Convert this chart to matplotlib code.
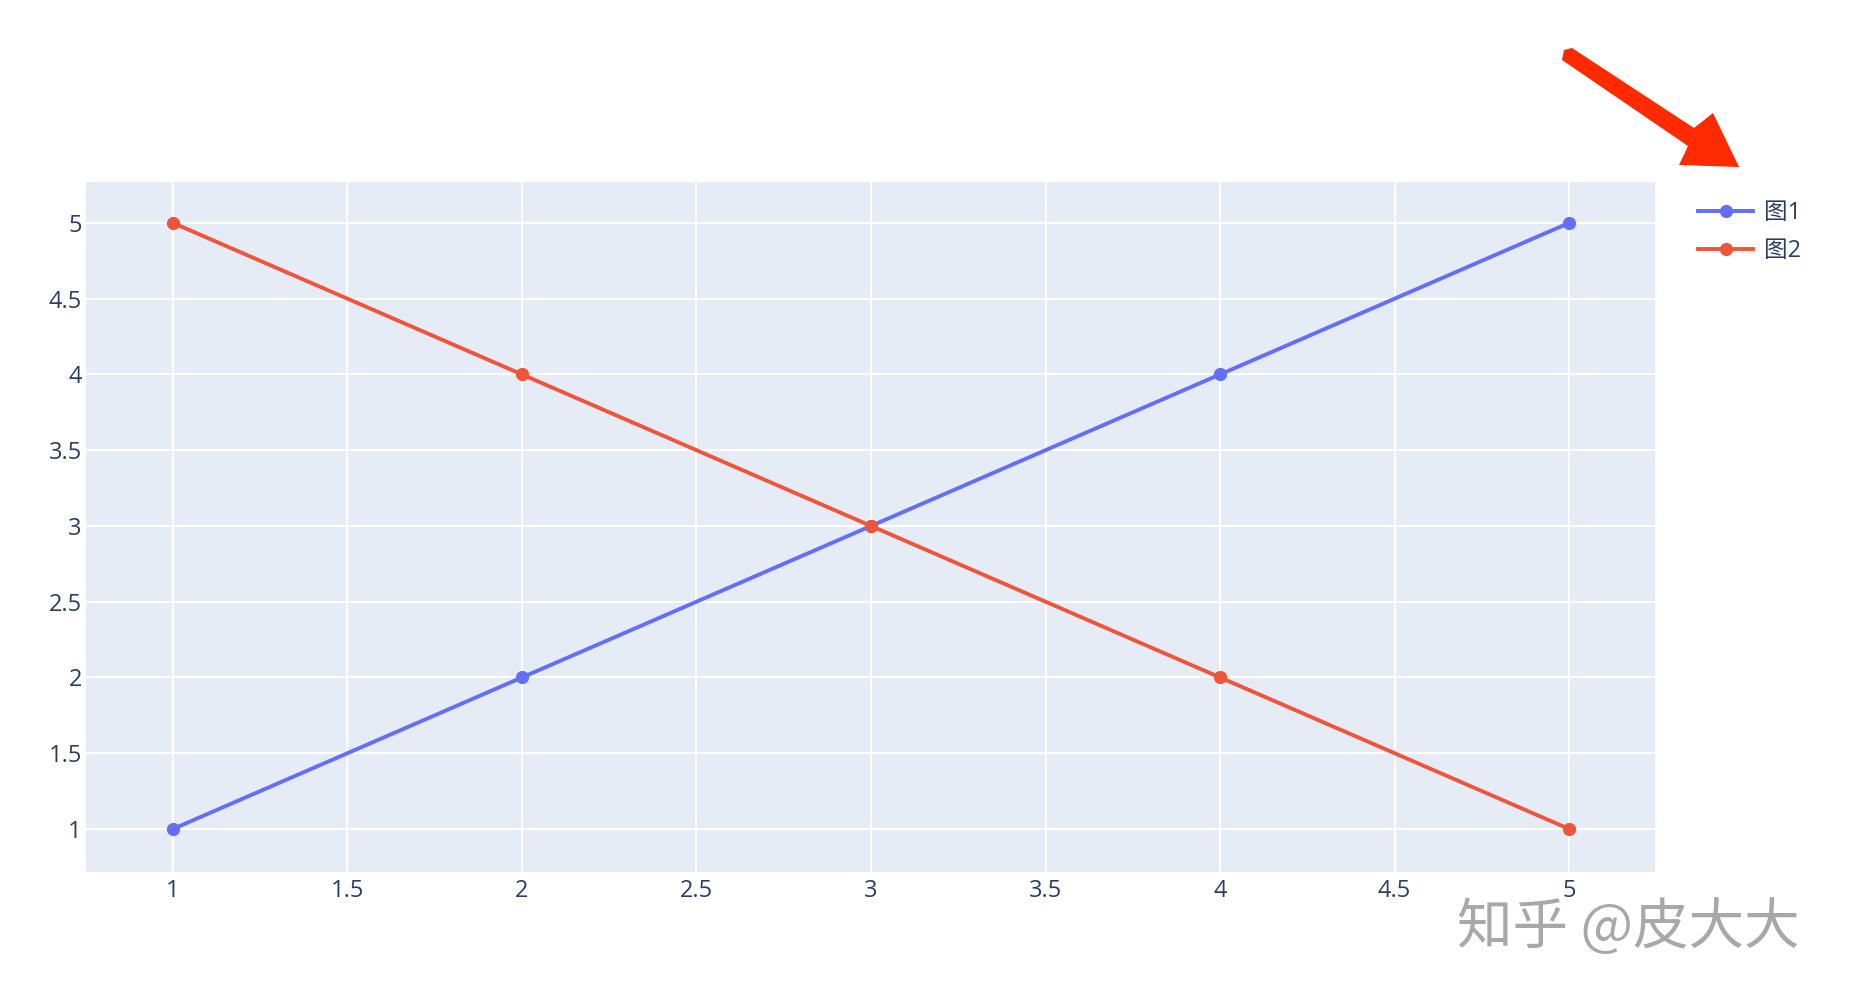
import matplotlib.pyplot as plt
from matplotlib.patches import Polygon

plt.rcParams['font.family'] = ['Open Sans', 'Noto Sans CJK SC', 'DejaVu Sans']

x = [1, 2, 3, 4, 5]
y1 = [1, 2, 3, 4, 5]
y2 = [5, 4, 3, 2, 1]
names = ['图1', '图2']
xticks = [1, 1.5, 2, 2.5, 3, 3.5, 4, 4.5, 5]
yticks = [1, 1.5, 2, 2.5, 3, 3.5, 4, 4.5, 5]

W, H = 1852, 1002
fig = plt.figure(figsize=(W / 100, H / 100), dpi=100)


def fx(px):
    return px / W


def fy(py):
    return 1 - py / H


# plot area (plotly-like)
ax = fig.add_axes([fx(86), fy(872), fx(1655) - fx(86), fy(182) - fy(872)])
ax.set_facecolor('#E5ECF6')
for s in ax.spines.values():
    s.set_visible(False)
ax.set_xlim(0.751, 5.246)
ax.set_ylim(0.716, 5.27)
ax.set_xticks(xticks)
ax.set_yticks(yticks)
ax.set_xticklabels([f'{t:g}' for t in xticks])
ax.set_yticklabels([f'{t:g}' for t in yticks])
ax.grid(True, color='white', linewidth=1.5)
ax.set_axisbelow(True)
ax.tick_params(length=0, labelsize=17, colors='#2a3f5f')
ax.tick_params(axis='y', pad=3)
ax.tick_params(axis='x', pad=5)

ax.plot(x, y1, color='#636efa', lw=2.8, marker='o', ms=8.5, label=names[0])
ax.plot(x, y2, color='#EF553B', lw=2.8, marker='o', ms=8.5, label=names[1])

leg = fig.legend(loc='upper left', bbox_to_anchor=(fx(1686), fy(189)),
                 frameon=False, fontsize=17, handlelength=2.35,
                 handletextpad=0.45, labelspacing=0.6, borderpad=0)
for t in leg.get_texts():
    t.set_color('#2a3f5f')

# red annotation arrow
pts = [(1564, 50), (1572, 48), (1694, 128), (1713, 113), (1739, 167),
       (1679, 165), (1688, 146), (1562, 60)]
arrow = Polygon([(fx(a), fy(b)) for a, b in pts], closed=True,
                transform=fig.transFigure, color='#ff2a00', lw=0)
fig.patches.append(arrow)

# watermark
fig.text(fx(1457), fy(928), '知乎 @皮大大', fontsize=40, color='#a8a8a8',
         va='center', ha='left', family=['Noto Sans CJK SC', 'DejaVu Sans'])

fig.savefig('out.png', dpi=100)
